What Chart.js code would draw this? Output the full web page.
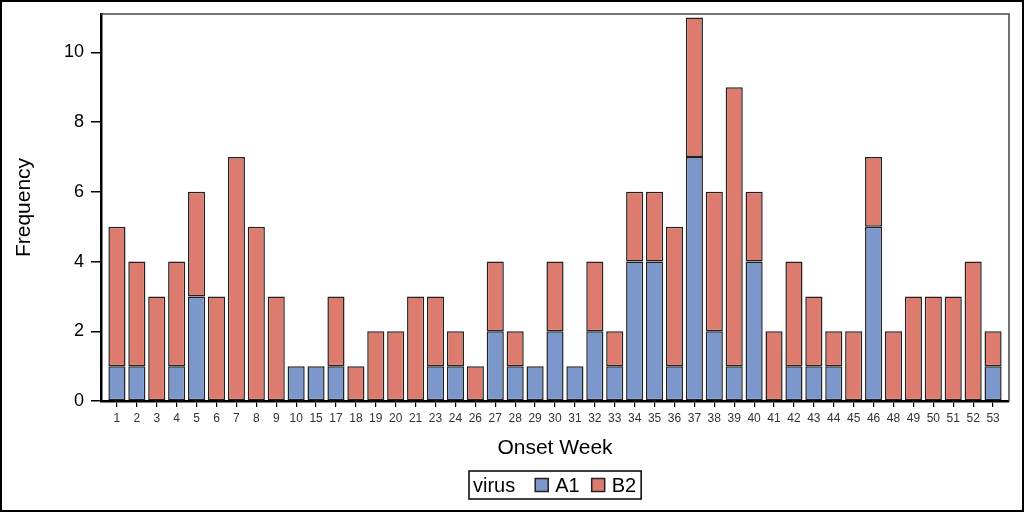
<!DOCTYPE html>
<html>
<head>
<meta charset="utf-8">
<title>Onset Week by virus</title>
<script src="https://cdn.jsdelivr.net/npm/chart.js@4.4.0/dist/chart.umd.min.js"></script>
<style>
  html, body { margin: 0; padding: 0; background: #fff; }
  #wrap { width: 1024px; height: 512px; position: relative; }
</style>
</head>
<body>
<div id="wrap"><canvas id="chart" width="1024" height="512"></canvas></div>
<script>
// onset weeks (categories) and counts per virus
const weeks = [1, 2, 3, 4, 5, 6, 7, 8, 9, 10, 15, 17, 18, 19, 20, 21, 23, 24, 26, 27,
               28, 29, 30, 31, 32, 33, 34, 35, 36, 37, 38, 39, 40, 41, 42, 43, 44, 45, 46, 48,
               49, 50, 51, 52, 53];
const a1 = [1, 1, 0, 1, 3, 0, 0, 0, 0, 1, 1, 1, 0, 0, 0, 0, 1, 1, 0, 2,
            1, 1, 2, 1, 2, 1, 4, 4, 1, 7, 2, 1, 4, 0, 1, 1, 1, 0, 5, 0,
            0, 0, 0, 0, 1];
const b2 = [4, 3, 3, 3, 3, 3, 7, 5, 3, 0, 0, 2, 1, 2, 2, 3, 2, 1, 1, 2,
            1, 0, 2, 0, 2, 1, 2, 2, 4, 4, 4, 8, 2, 2, 3, 2, 1, 2, 2, 2,
            3, 3, 3, 4, 1];
const yTicks = [0, 2, 4, 6, 8, 10];

const FONT = "'Liberation Sans', Arial, sans-serif";
const BLUE = "#7b97cc";
const RED = "#dd7c6e";
const EDGE = "#222222";

// zero counts are left out so no empty segment gets drawn
function points(values) {
    return values.map((v, i) => ({ x: i, y: v === 0 ? null : v }));
}

// plot frame, outer border and the "virus" legend
const framePlugin = {
    id: "frame",
    afterDraw(chart) {
        const ctx = chart.ctx;
        const area = chart.chartArea;
        ctx.save();
        // top and right sides of the plot box
        ctx.strokeStyle = "#444";
        ctx.lineWidth = 1.5;
        ctx.beginPath();
        ctx.moveTo(area.left, area.top);
        ctx.lineTo(area.right, area.top);
        ctx.lineTo(area.right, area.bottom);
        ctx.stroke();

        // outer border
        ctx.strokeStyle = "#000";
        ctx.lineWidth = 2;
        ctx.strokeRect(1, 1, chart.width - 2, chart.height - 2);

        // legend
        ctx.font = "20px " + FONT;
        ctx.textBaseline = "middle";
        const items = chart.data.datasets.map(d => ({ label: d.label, color: d.backgroundColor }));
        const title = "virus";
        const sw = 13;
        let total = 4 + ctx.measureText(title).width + 20;
        items.forEach((it, i) => {
            total += sw + 7 + ctx.measureText(it.label).width + (i < items.length - 1 ? 12 : 5);
        });
        const boxTop = 471, boxH = 28;
        const cx = (area.left + area.right) / 2;
        let x = Math.round(cx - total / 2);
        const midY = boxTop + boxH / 2 + 1;
        ctx.fillStyle = "#fff";
        ctx.fillRect(x, boxTop, total, boxH);
        ctx.strokeStyle = "#000";
        ctx.lineWidth = 1.5;
        ctx.strokeRect(x, boxTop, total, boxH);
        x += 4;
        ctx.fillStyle = "#000";
        ctx.textAlign = "left";
        ctx.fillText(title, x, midY);
        x += ctx.measureText(title).width + 20;
        items.forEach((it, i) => {
            ctx.fillStyle = it.color;
            ctx.fillRect(x, midY - sw / 2 - 1, sw, sw);
            ctx.strokeStyle = EDGE;
            ctx.lineWidth = 1.5;
            ctx.strokeRect(x, midY - sw / 2 - 1, sw, sw);
            x += sw + 7;
            ctx.fillStyle = "#000";
            ctx.fillText(it.label, x, midY);
            x += ctx.measureText(it.label).width + 12;
        });
        ctx.restore();
    }
};

const chart = new Chart(document.getElementById("chart"), {
    type: "bar",
    data: {
        datasets: [
            {
                label: "A1",
                data: points(a1),
                backgroundColor: BLUE,
                borderColor: EDGE,
                borderWidth: 1.5,
                borderSkipped: false
            },
            {
                label: "B2",
                data: points(b2),
                backgroundColor: RED,
                borderColor: EDGE,
                borderWidth: 1.5,
                borderSkipped: false
            }
        ]
    },
    options: {
        responsive: false,
        animation: false,
        events: [],
        barPercentage: 0.86,
        categoryPercentage: 1.0,
        layout: { padding: { top: 14, right: 15, bottom: 51, left: 0 } },
        plugins: {
            legend: { display: false },
            tooltip: { enabled: false }
        },
        scales: {
            x: {
                type: "linear",
                stacked: true,
                offset: false,
                min: -0.8,
                max: weeks.length - 0.2,
                afterFit(scale) {
                    scale.height = 60;
                    scale.paddingLeft = 0;
                    scale.paddingRight = 0;
                },
                grid: {
                    drawOnChartArea: false,
                    drawTicks: true,
                    offset: false,
                    tickLength: 6,
                    tickColor: "#000",
                    lineWidth: 1.2
                },
                border: { display: true, color: "#000", width: 2.5 },
                ticks: {
                    stepSize: 1,
                    autoSkip: false,
                    includeBounds: false,
                    maxRotation: 0,
                    padding: 4,
                    color: "#333",
                    font: { family: FONT, size: 12 },
                    callback: (v) => weeks[v] !== undefined ? String(weeks[v]) : ""
                },
                title: {
                    display: true,
                    text: "Onset Week",
                    color: "#000",
                    font: { family: FONT, size: 21 },
                    padding: { top: 4, bottom: 0 }
                }
            },
            y: {
                stacked: true,
                min: 0,
                max: 11.1,
                afterFit(scale) {
                    scale.width = 101;
                    scale.paddingTop = 0;
                    scale.paddingBottom = 0;
                },
                afterBuildTicks(scale) { scale.ticks = yTicks.map(v => ({ value: v })); },
                grid: {
                    drawOnChartArea: false,
                    drawTicks: true,
                    tickLength: 10,
                    tickColor: "#000",
                    lineWidth: 1.5
                },
                border: { display: true, color: "#000", width: 2.5 },
                ticks: {
                    padding: 7,
                    color: "#000",
                    font: { family: FONT, size: 18 }
                },
                title: {
                    display: true,
                    text: "Frequency",
                    color: "#000",
                    font: { family: FONT, size: 21 },
                    padding: { top: 12, bottom: 0 }
                }
            }
        }
    },
    plugins: [framePlugin]
});
</script>
</body>
</html>
